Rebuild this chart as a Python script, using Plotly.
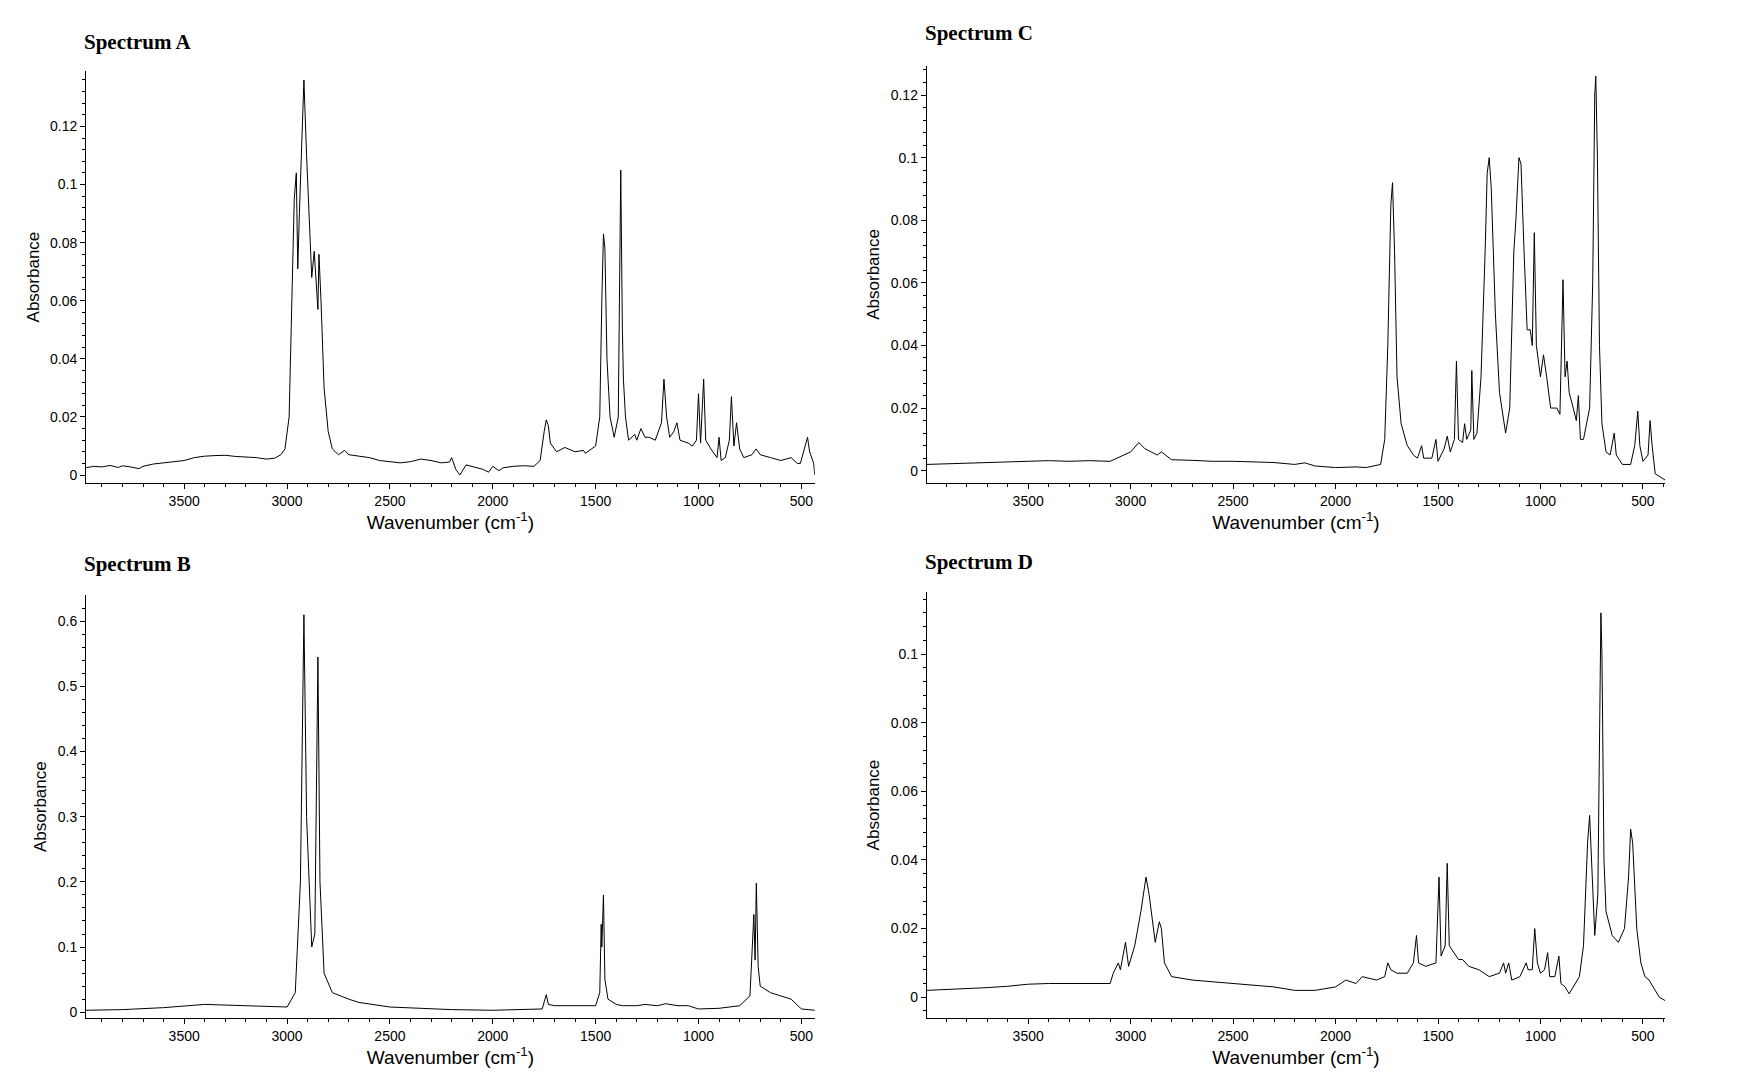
import plotly.graph_objects as go

# Spectrum A
a_wn = [3978,3940,3900,3860,3820,3800,3760,3720,3700,3650,3600,3550,3500,3450,3400,3350,3300,3250,3200,3150,3100,3060,3030,3010,2990,2975,2965,2955,2948,2940,2925,2918,2905,2890,2880,2868,2858,2850,2845,2835,2820,2800,2780,2750,2720,2700,2650,2600,2550,2500,2450,2400,2350,2300,2250,2210,2200,2180,2160,2130,2100,2050,2020,2000,1970,1950,1900,1850,1800,1770,1750,1740,1730,1720,1700,1690,1650,1600,1560,1550,1500,1480,1470,1462,1455,1445,1430,1410,1390,1378,1370,1365,1355,1340,1310,1300,1280,1260,1240,1210,1180,1168,1155,1140,1120,1105,1090,1050,1030,1010,1000,990,975,965,940,910,900,890,870,850,840,828,815,800,780,740,720,700,650,600,550,520,505,480,470,460,445,440,435]
a_ab = [0.0025,0.003,0.0028,0.0033,0.0026,0.0032,0.0028,0.0022,0.003,0.0038,0.0042,0.0046,0.005,0.006,0.0065,0.0067,0.0068,0.0064,0.0063,0.006,0.0055,0.0058,0.007,0.009,0.02,0.06,0.095,0.104,0.071,0.09,0.125,0.136,0.11,0.082,0.068,0.077,0.066,0.057,0.076,0.06,0.03,0.015,0.009,0.007,0.0085,0.007,0.0065,0.006,0.005,0.0045,0.0042,0.0046,0.0055,0.005,0.0042,0.0045,0.006,0.002,0.0,0.0035,0.003,0.002,0.001,0.003,0.0015,0.0025,0.003,0.0032,0.003,0.005,0.015,0.019,0.017,0.011,0.009,0.008,0.0095,0.008,0.0085,0.0075,0.01,0.02,0.06,0.083,0.078,0.04,0.02,0.013,0.02,0.105,0.05,0.033,0.02,0.012,0.014,0.012,0.016,0.013,0.013,0.012,0.018,0.033,0.02,0.013,0.015,0.018,0.012,0.011,0.01,0.012,0.028,0.011,0.033,0.012,0.009,0.006,0.013,0.005,0.006,0.012,0.027,0.01,0.018,0.009,0.006,0.007,0.009,0.007,0.006,0.005,0.006,0.004,0.004,0.01,0.013,0.008,0.005,0.004,0.0]

# Spectrum B
b_wn = [3978,3800,3600,3400,3200,3000,2960,2935,2918,2905,2880,2865,2850,2840,2820,2780,2700,2650,2500,2200,2000,1760,1740,1730,1700,1500,1480,1473,1470,1462,1455,1440,1400,1370,1300,1260,1200,1160,1100,1050,1000,900,800,750,731,725,719,710,700,650,600,550,500,435]
b_ab = [0.003,0.004,0.007,0.012,0.01,0.008,0.03,0.2,0.61,0.3,0.1,0.12,0.545,0.2,0.06,0.03,0.02,0.015,0.008,0.004,0.003,0.005,0.027,0.012,0.01,0.01,0.03,0.135,0.1,0.18,0.05,0.02,0.012,0.01,0.01,0.012,0.01,0.013,0.01,0.01,0.005,0.006,0.01,0.025,0.15,0.08,0.198,0.07,0.04,0.03,0.025,0.02,0.005,0.003]

# Spectrum C
c_wn = [3995,3900,3800,3700,3600,3500,3400,3300,3200,3100,3000,2960,2930,2900,2870,2850,2800,2700,2600,2500,2400,2300,2200,2150,2100,2000,1900,1850,1780,1760,1745,1730,1722,1712,1700,1680,1650,1620,1600,1580,1570,1530,1510,1500,1470,1455,1440,1420,1410,1400,1380,1370,1360,1340,1335,1325,1310,1290,1270,1260,1250,1240,1220,1200,1170,1150,1130,1120,1105,1095,1080,1065,1050,1040,1030,1020,1000,985,970,950,920,905,890,880,870,860,840,825,815,805,790,760,745,735,730,722,712,700,680,660,640,630,600,560,540,525,515,500,475,465,455,440,391]
c_ab = [0.002,0.0022,0.0025,0.0028,0.003,0.003,0.0032,0.003,0.0032,0.003,0.006,0.009,0.007,0.006,0.005,0.006,0.0035,0.0033,0.003,0.003,0.0028,0.0026,0.002,0.0025,0.0015,0.001,0.0012,0.001,0.002,0.01,0.04,0.085,0.092,0.07,0.03,0.015,0.008,0.005,0.004,0.008,0.004,0.004,0.01,0.003,0.007,0.011,0.006,0.01,0.035,0.01,0.009,0.015,0.01,0.013,0.032,0.01,0.012,0.03,0.07,0.095,0.1,0.09,0.05,0.025,0.012,0.02,0.07,0.08,0.1,0.098,0.07,0.045,0.045,0.04,0.076,0.04,0.03,0.037,0.03,0.02,0.02,0.018,0.061,0.03,0.035,0.025,0.02,0.016,0.024,0.01,0.01,0.02,0.06,0.12,0.126,0.1,0.04,0.015,0.006,0.005,0.012,0.005,0.002,0.002,0.008,0.019,0.008,0.003,0.005,0.016,0.008,-0.001,-0.003]

# Spectrum D
d_wn = [3995,3900,3800,3700,3600,3500,3400,3300,3200,3100,3085,3060,3050,3025,3010,2980,2950,2925,2910,2880,2860,2850,2835,2800,2700,2600,2500,2400,2300,2200,2150,2100,2000,1950,1900,1870,1800,1760,1745,1730,1700,1650,1620,1605,1595,1560,1510,1495,1485,1465,1455,1445,1400,1380,1350,1300,1250,1200,1180,1170,1155,1140,1100,1070,1060,1040,1028,1015,1000,980,965,955,930,910,900,880,860,840,810,790,770,760,750,735,720,705,700,690,680,650,620,590,570,560,550,530,510,490,470,450,420,391]
d_ab = [0.002,0.0022,0.0025,0.0028,0.0032,0.0038,0.004,0.004,0.0038,0.004,0.007,0.01,0.008,0.016,0.009,0.015,0.025,0.035,0.03,0.016,0.022,0.02,0.01,0.006,0.005,0.0045,0.004,0.0035,0.003,0.002,0.002,0.002,0.003,0.005,0.004,0.006,0.005,0.006,0.01,0.008,0.007,0.007,0.01,0.018,0.01,0.009,0.01,0.035,0.012,0.015,0.039,0.015,0.011,0.011,0.009,0.008,0.006,0.007,0.01,0.007,0.01,0.005,0.006,0.01,0.008,0.008,0.02,0.01,0.007,0.008,0.013,0.006,0.006,0.012,0.004,0.003,0.001,0.003,0.006,0.015,0.045,0.053,0.04,0.018,0.03,0.112,0.1,0.04,0.025,0.018,0.016,0.02,0.035,0.049,0.045,0.02,0.01,0.006,0.005,0.003,0.0,-0.001]

titles = ["Spectrum A", "Spectrum B", "Spectrum C", "Spectrum D"]

fig = go.Figure()
panels = [
    (a_wn, a_ab, [0.0446, 0.461], [0.557, 0.941], [3977, 435], [-0.0027, 0.139], 0.02, 0.004),
    (b_wn, b_ab, [0.0446, 0.461], [0.058, 0.452], [3977, 435], [-0.0086, 0.6395], 0.1, 0.02),
    (c_wn, c_ab, [0.525, 0.947], [0.557, 0.946], [3995, 391], [-0.0039, 0.1293], 0.02, 0.004),
    (d_wn, d_ab, [0.525, 0.947], [0.058, 0.455], [3995, 391], [-0.006, 0.118], 0.02, 0.004),
]
tfont = dict(family="Liberation Sans, Arial", size=14, color="black")
for i, (x, y, xd, yd, xr, yr, dt, mdt) in enumerate(panels):
    n = "" if i == 0 else str(i + 1)
    fig.add_trace(go.Scatter(x=x, y=y, mode="lines", line=dict(color="black", width=1),
                             xaxis="x" + n, yaxis="y" + n, showlegend=False))
    fig.layout["xaxis" + n] = dict(domain=xd, range=xr, anchor="y" + n, showgrid=False, zeroline=False,
                                  showline=True, linecolor="black", ticks="outside", tickcolor="black",
                                  tickvals=[3500, 3000, 2500, 2000, 1500, 1000, 500], tickfont=tfont,
                                  minor=dict(ticks="outside", dtick=100, tick0=0, ticklen=3, tickcolor="black"),
                                  title=dict(text="Wavenumber (cm<sup>-1</sup>)", standoff=2,
                                             font=dict(family="Liberation Sans, Arial", size=19, color="black")))
    fig.layout["yaxis" + n] = dict(domain=yd, range=yr, anchor="x" + n, showgrid=False, zeroline=False,
                                  showline=True, linecolor="black", ticks="outside", tickcolor="black",
                                  dtick=dt, tick0=0, tickfont=tfont,
                                  minor=dict(ticks="outside", dtick=mdt, tick0=0, ticklen=3, tickcolor="black"),
                                  title=dict(text="Absorbance", standoff=6,
                                             font=dict(family="Liberation Sans, Arial", size=17, color="black")))

ann_pos = [(0.042, 0.968), (0.042, 0.481), (0.523, 0.977), (0.523, 0.483)]
for t, (ax, ay) in zip(titles, ann_pos):
    fig.add_annotation(text="<b>" + t + "</b>", x=ax, y=ay, xref="paper", yref="paper",
                       xanchor="left", yanchor="middle", showarrow=False,
                       font=dict(family="Liberation Serif, Times New Roman", size=21, color="black"))

fig.update_layout(width=1750, height=1074, margin=dict(l=0, r=0, t=0, b=0),
                  plot_bgcolor="white", paper_bgcolor="white")
fig.write_html("out.html")
